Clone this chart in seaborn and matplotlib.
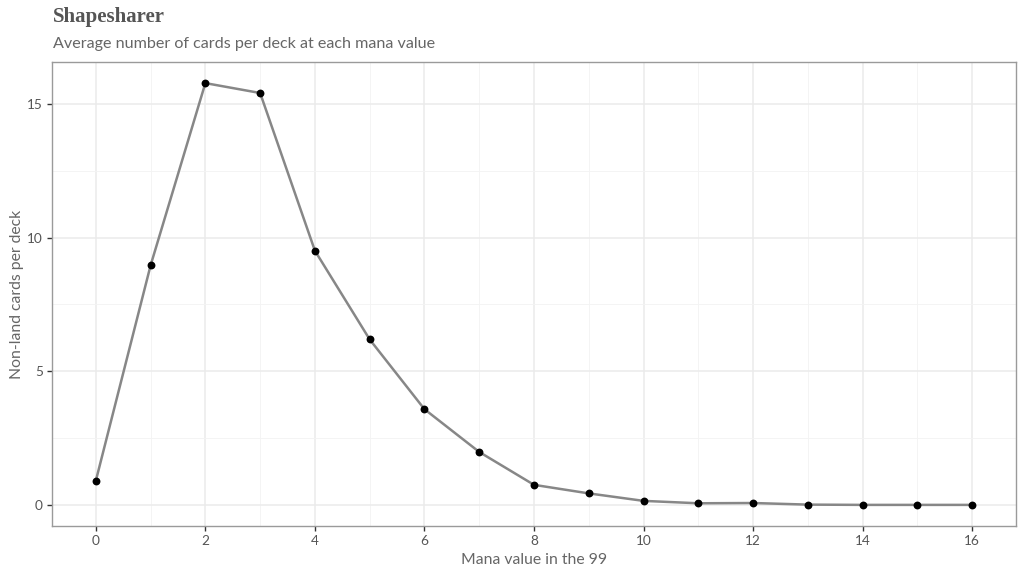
import matplotlib
matplotlib.use("Agg")
import matplotlib.pyplot as plt
import seaborn as sns
import pandas as pd
from matplotlib.ticker import MultipleLocator

mana_value = [0, 1, 2, 3, 4, 5, 6, 7, 8, 9, 10, 11, 12, 13, 14, 15, 16]
cards_per_deck = [0.90, 8.96, 15.78, 15.41, 9.51, 6.19, 3.58, 1.98, 0.75, 0.43, 0.15, 0.06, 0.07, 0.01, 0.0, 0.0, 0.0]

title = "Shapesharer"
subtitle = "Average number of cards per deck at each mana value"
xlabel = "Mana value in the 99"
ylabel = "Non-land cards per deck"

df = pd.DataFrame({"mv": mana_value, "n": cards_per_deck})

sns.set_theme(style="white")
plt.rcParams["font.family"] = ["Lato", "DejaVu Sans"]

fig = plt.figure(figsize=(10.24, 5.76), dpi=100)
ax = fig.add_axes([52/1024, 1-526/576, (1016-52)/1024, (526-62)/576])

sns.lineplot(data=df, x="mv", y="n", ax=ax, color="#878787", linewidth=1.8, zorder=3)
sns.scatterplot(data=df, x="mv", y="n", ax=ax, color="black", s=32, edgecolor="black", linewidth=0, zorder=4)

ax.set_xlim(-0.8, 16.8)
ax.set_ylim(-0.79, 16.57)
ax.xaxis.set_major_locator(MultipleLocator(2))
ax.xaxis.set_minor_locator(MultipleLocator(1))
ax.yaxis.set_major_locator(MultipleLocator(5))
ax.yaxis.set_minor_locator(MultipleLocator(2.5))
ax.grid(True, which="major", color="#EBEBEB", linewidth=1.1, zorder=0)
ax.grid(True, which="minor", color="#F3F3F3", linewidth=0.6, zorder=0)
ax.set_axisbelow(True)
for s in ax.spines.values():
    s.set_color("#9a9a9a")
    s.set_linewidth(1.0)
ax.tick_params(axis="both", which="major", length=3.5, width=1, color="#333333",
               labelsize=9.8, labelcolor="#555555", pad=3, bottom=True, left=True)
ax.tick_params(axis="both", which="minor", length=0)

ax.set_xlabel(xlabel, fontsize=11.3, color="#666666", labelpad=4)
ax.set_ylabel(ylabel, fontsize=11.3, color="#666666", labelpad=2)

fig.text(53/1024, 1-17/576, title, fontsize=15, fontweight="bold", color="#555555",
         family=["Liberation Serif"], va="center", ha="left")
fig.text(53/1024, 1-44/576, subtitle, fontsize=11.6, color="#666666", va="center", ha="left")

fig.savefig("out.png", dpi=100)
